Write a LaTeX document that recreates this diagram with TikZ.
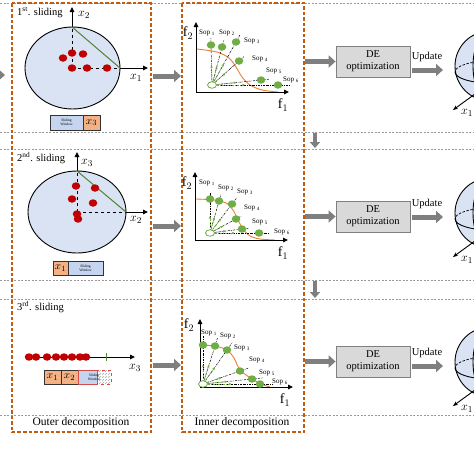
\documentclass[tikz,border=0pt]{standalone}
\usepackage{fontspec}
\setmainfont{Liberation Serif}
\usetikzlibrary{arrows.meta,calc,patterns,shapes.geometric}
\definecolor{gline}{HTML}{9A9A9A}
\definecolor{obox}{HTML}{C55A11}
\definecolor{garrow}{HTML}{7F7F7F}
\definecolor{eblue}{HTML}{DAE3F3}
\definecolor{wblue}{HTML}{C5D5EF}
\definecolor{worange}{HTML}{F4B183}
\definecolor{rdot}{HTML}{C00000}
\definecolor{gdot}{HTML}{70AD47}
\definecolor{gdark}{HTML}{548235}
\definecolor{ocurve}{HTML}{ED7D31}
\definecolor{degray}{HTML}{D9D9D9}
\begin{document}
\begin{tikzpicture}[x=1pt,y=-1pt,
  rowline/.style={gline, line width=0.9pt, dash pattern=on 2pt off 1.5pt},
  decobox/.style={obox, line width=1.1pt, dash pattern=on 3.5pt off 2pt},
  bigarrow/.style={garrow, line width=5pt, -{Triangle[length=7pt,width=12pt]}},
  downarrow/.style={garrow, line width=4pt, -{Triangle[length=6pt,width=10pt]}},
  axis/.style={black, line width=0.9pt, -{Triangle[length=5pt,width=4.5pt]}},
  inaxis/.style={black, line width=0.8pt, dashed},
  reddot/.style={ellipse, fill=rdot, minimum width=8.5pt, minimum height=7.5pt, inner sep=0pt},
  greendot/.style={ellipse, fill=gdot, minimum width=8.5pt, minimum height=7.5pt, inner sep=0pt},
  refpt/.style={ellipse, draw=gdot, fill=white, line width=0.8pt, minimum width=9pt, minimum height=6.5pt, inner sep=0pt},
  sop/.style={font=\fontsize{7}{7}\selectfont, inner sep=0pt},
  sopline/.style={black, line width=0.5pt, dash pattern=on 2pt off 1pt on 0.6pt off 1pt},
  soparrow/.style={gdot, line width=0.7pt, dash pattern=on 1.5pt off 1pt, -{Stealth[length=3pt,width=2.5pt]}},
  destyle/.style={draw=gray, fill=degray, minimum width=74pt, minimum height=31pt, align=center, font=\fontsize{10.5}{12}\selectfont, line width=0.8pt, inner sep=0pt},
  axlabel/.style={font=\fontsize{13}{13}\selectfont, inner sep=0pt},
  flabel/.style={font=\fontsize{14}{14}\selectfont, inner sep=0pt},
  slabel/.style={font=\fontsize{10.5}{11}\selectfont, anchor=west, inner sep=0pt},
  wtext/.style={font=\fontsize{3.6}{3.9}\selectfont, align=center, inner sep=0pt},
  xwin/.style={font=\fontsize{11}{11}\selectfont, inner sep=0pt},
  sphere/.style={circle, draw, fill=eblue, line width=0.9pt, minimum size=70pt, inner sep=0pt},
  capt/.style={font=\fontsize{11.5}{12}\selectfont, inner sep=0pt}
]
\useasboundingbox (0,0) rectangle (474,474);
\clip (0,0) rectangle (474,474);

% row separators
\foreach \yy in {3,132,149,280,299,415} \draw[rowline] (0,\yy) -- (474,\yy);

% decomposition boxes
\draw[decobox] (12,3) rectangle (151,432);
\draw[decobox] (182,3) rectangle (304,432);
\node[capt] (outcap) at (81,423) {Outer decomposition};
\node[capt] (incap) at (242,423) {Inner decomposition};

% ================= ROW 1 outer =================
\node[slabel] (s1) at (17,13) {1\textsuperscript{st}. sliding};
\node[ellipse, draw, fill=eblue, line width=0.9pt, minimum width=95pt, minimum height=82pt, inner sep=0pt] (e1) at (72.5,68) {};
\coordinate (o1) at (72,68); \coordinate (top1) at (72,27); \coordinate (rt1) at (120,68);
\coordinate (ax1v) at (72,7); \coordinate (ax1h) at (148,68);
\draw[inaxis] (o1) -- (top1);
\draw[inaxis] (o1) -- (rt1);
\draw[axis] (top1) -- (ax1v);
\draw[axis] (rt1) -- (ax1h);
\draw[gdark, line width=1pt] (top1) -- (rt1);
\foreach \px/\py [count=\k] in {72/68, 87/68, 107/68, 63/58, 72/53, 83/54}
  \node[reddot] (r1p\k) at (\px,\py) {};
\node[axlabel] (l1x2) at (84,15) {$x_2$};
\node[axlabel] (l1x1) at (136,78) {$x_1$};
\draw[draw=black!80, fill=wblue, line width=0.5pt] (50,115) rectangle (83,130);
\draw[draw=black!80, fill=worange, line width=0.5pt] (83,115) rectangle (100,130);
\node[wtext] (w1t) at (66.5,122.5) {Sliding\\Window};
\node[xwin] (w1x) at (91.5,122.5) {$x_3$};

% ================= ROW 2 outer =================
\node[slabel] (s2) at (17,158) {2\textsuperscript{nd}. sliding};
\node[ellipse, draw, fill=eblue, line width=0.9pt, minimum width=98pt, minimum height=82pt, inner sep=0pt] (e2) at (77,212) {};
\coordinate (o2) at (77,212); \coordinate (top2) at (77,171); \coordinate (rt2) at (126,212);
\coordinate (ax2v) at (77,152); \coordinate (ax2h) at (148,212);
\draw[inaxis] (o2) -- (top2);
\draw[inaxis] (o2) -- (rt2);
\draw[axis] (top2) -- (ax2v);
\draw[axis] (rt2) -- (ax2h);
\draw[gdark, line width=1pt] (top2) -- (rt2);
\foreach \px/\py [count=\k] in {76/186, 95/188, 72/199, 93/203, 77/214, 78/219}
  \node[reddot] (r2p\k) at (\px,\py) {};
\node[axlabel] (l2x3) at (87,163) {$x_3$};
\node[axlabel] (l2x2) at (136,220) {$x_2$};
\draw[draw=black!80, fill=worange, line width=0.5pt] (53,261) rectangle (68,275);
\draw[draw=black!80, fill=wblue, line width=0.5pt] (68,261) rectangle (103,275);
\node[xwin] (w2x) at (60.5,268) {$x_1$};
\node[wtext] (w2t) at (85.5,268) {Sliding\\Window};

% ================= ROW 3 outer =================
\node[slabel] (s3) at (17,307) {3\textsuperscript{rd}. sliding};
\coordinate (l3a) at (27,357); \coordinate (l3b) at (135,357);
\draw[axis] (l3a) -- (l3b);
\draw[gdark, line width=0.9pt] (106,353) -- (106,361);
\foreach \px [count=\k] in {29,36,47,56,64,72,80,86}
  \node[reddot] (r3p\k) at (\px,357) {};
\node[axlabel] (l3x3) at (135,368) {$x_3$};
\draw[draw=black!80, fill=worange, line width=0.5pt] (44,370) rectangle (61,384);
\draw[draw=black!80, fill=worange, line width=0.5pt] (61,370) rectangle (78,384);
\draw[pattern=north east lines, pattern color=gray!70, draw=rdot!70, line width=0.6pt, dashed] (97,370) rectangle (111,384);
\draw[draw=rdot!70, fill=wblue, line width=0.6pt] (78,370) rectangle (97,384);
\node[xwin] (w3x1) at (52.5,377) {$x_1$};
\node[xwin] (w3x2) at (69.5,377) {$x_2$};
\node[wtext] (w3t) at (94,377) {Sliding\\Window};

% ================= arrows outer -> inner =================
\coordinate (ls1) at (-20,75); \coordinate (le1) at (5,75);
\draw[bigarrow] (ls1) -- (le1);
\foreach \yy [count=\k] in {76,226,365} {
  \coordinate (oa\k) at (153,\yy); \coordinate (ob\k) at (181,\yy);
  \draw[bigarrow] (oa\k) -- (ob\k);
}

% ================= ROW 1 inner =================
\coordinate (f1o) at (196,92);
\coordinate (f1v) at (196,22); \coordinate (f1h) at (289,92);
\draw[ocurve, line width=0.9pt] plot[smooth] coordinates {(197,49) (217,52) (229,58) (236,67) (242,77) (250,85) (262,90) (278,92)};
\draw[axis] (f1o) -- (f1v);
\draw[axis] (f1o) -- (f1h);
\node[flabel] (f1l2) at (188,33) {f$_2$};
\node[flabel] (f1l1) at (283,105) {f$_1$};
\coordinate (q1) at (212,85);
\foreach \dx/\dy/\lx/\ly [count=\i] in {211/45/207/33, 222/47/227/33, 236/42/252/41, 239/61/260/59, 261/80/274/71, 278/85/291/80} {
  \coordinate (q1d\i) at (\dx,\dy);
  \draw[sopline] (q1) -- ($(q1)!1.18!(q1d\i)$);
  \draw[soparrow] (q1) -- ($(q1)!0.5!(q1d\i)$);
  \node[greendot] (q1n\i) at (q1d\i) {};
  \node[sop] (q1s\i) at (\lx,\ly) {Sop \textsubscript{\i}};
}
\node[refpt] (q1ref) at (q1) {};

% ================= ROW 2 inner =================
\coordinate (f2o) at (195,240);
\coordinate (f2v) at (195,172); \coordinate (f2h) at (288,240);
\draw[ocurve, line width=0.9pt] plot[smooth] coordinates {(196,199) (214,200) (226,203) (233,210) (238,220) (243,229) (250,236) (260,239) (275,240)};
\draw[axis] (f2o) -- (f2v);
\draw[axis] (f2o) -- (f2h);
\node[flabel] (f2l2) at (187,183) {f$_2$};
\node[flabel] (f2l1) at (283,253) {f$_1$};
\coordinate (q2) at (210,233);
\foreach \dx/\dy/\lx/\ly [count=\i] in {210/199/207/183, 219/201/226/188, 232/204/245/192, 236/219/252/208, 242/229/260/222, 259/233/282/232} {
  \coordinate (q2d\i) at (\dx,\dy);
  \draw[sopline] (q2) -- ($(q2)!1.2!(q2d\i)$);
  \draw[soparrow] (q2) -- ($(q2)!0.5!(q2d\i)$);
  \node[greendot] (q2n\i) at (q2d\i) {};
  \node[sop] (q2s\i) at (\lx,\ly) {Sop \textsubscript{\i}};
}
\node[refpt] (q2ref) at (q2) {};

% ================= ROW 3 inner =================
\coordinate (f3o) at (200,387);
\coordinate (f3v) at (200,319); \coordinate (f3h) at (293,387);
\draw[ocurve, line width=0.9pt] plot[smooth] coordinates {(200,345) (215,346) (227,350) (234,358) (240,370) (252,379) (261,384) (270,387)};
\draw[axis] (f3o) -- (f3v);
\draw[axis] (f3o) -- (f3h);
\node[flabel] (f3l2) at (189,325) {f$_2$};
\node[flabel] (f3l1) at (285,400) {f$_1$};
\coordinate (q3) at (203,384);
\foreach \dx/\dy/\lx/\ly [count=\i] in {203/345/209/333, 215/346/228/336, 227/350/242/348, 240/371/257/360, 252/379/267/373, 260/384/280/382} {
  \coordinate (q3d\i) at (\dx,\dy);
  \draw[sopline] (q3) -- ($(q3)!1.22!(q3d\i)$);
  \draw[soparrow] (q3) -- ($(q3)!0.5!(q3d\i)$);
  \node[greendot] (q3n\i) at (q3d\i) {};
  \node[sop] (q3s\i) at (\lx,\ly) {Sop \textsubscript{\i}};
}
\node[refpt] (q3ref) at (q3) {};

% ================= down arrows between rows =================
\coordinate (da1) at (315,133); \coordinate (db1) at (315,148);
\coordinate (da2) at (315,281); \coordinate (db2) at (315,298);
\draw[downarrow] (da1) -- (db1);
\draw[downarrow] (da2) -- (db2);

% ================= DE boxes, update, spheres =================
\foreach \dy/\sy [count=\k] in {61.5/66, 216.5/213, 361.5/362} {
  \node[destyle] (de\k) at (373,\dy) {DE\\optimization};
  \coordinate (ia\k) at (305,\dy);
  \draw[bigarrow] (ia\k) -- (de\k.west);
  \coordinate (ua\k) at (412,\sy+4);
  \coordinate (ub\k) at (443,\sy+4);
  \draw[bigarrow] (ua\k) -- (ub\k);
  \node[font=\fontsize{10.5}{11}\selectfont, inner sep=0pt] (upd\k) at (427,\sy-9) {Update};
  \node[sphere] (sp\k) at (490,\sy) {};
  \draw[line width=0.7pt, dash pattern=on 2.5pt off 1.5pt] (525,\sy+6) arc[start angle=0, end angle=180, x radius=35pt, y radius=11pt];
  \draw[line width=0.9pt] (455,\sy+6) arc[start angle=180, end angle=360, x radius=35pt, y radius=11pt];
  \draw[line width=0.9pt] (490,\sy-35) arc[start angle=90, end angle=270, x radius=17pt, y radius=35pt];
  \coordinate (sc\k) at (490,\sy+17);
  \coordinate (st\k) at (453,\sy+44);
  \draw[black, line width=0.9pt, -{Stealth[length=5pt,width=4pt]}] (sc\k) -- (st\k);
  \node[axlabel] (sx\k) at (467,\sy+47) {$x_1$};
}
\end{tikzpicture}
\end{document}
